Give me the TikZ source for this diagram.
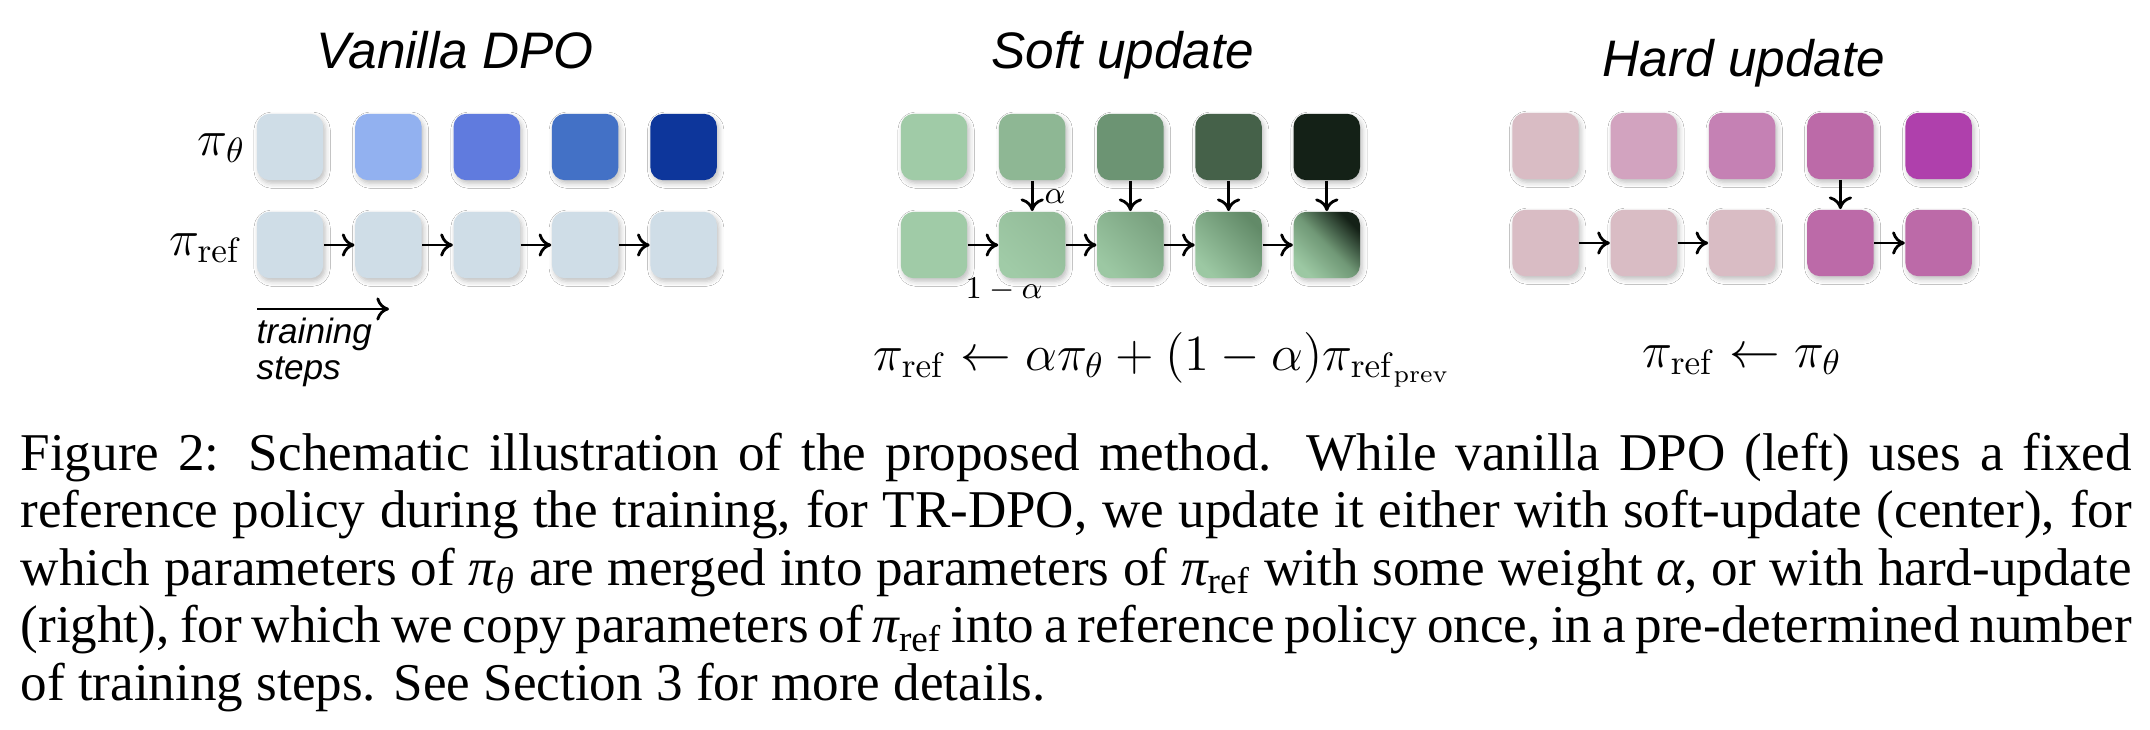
\documentclass[tikz,border=0pt]{standalone}
\usepackage[no-math]{fontspec}
\setmainfont{Liberation Serif}
\newfontfamily\headfont{Liberation Sans}
\usetikzlibrary{arrows.meta,shadows,shadows.blur}

\definecolor{vA}{RGB}{207,221,231}
\definecolor{vB}{RGB}{146,177,240}
\definecolor{vC}{RGB}{96,123,222}
\definecolor{vD}{RGB}{67,113,198}
\definecolor{vE}{RGB}{13,54,155}
\definecolor{sA}{RGB}{160,203,167}
\definecolor{sB}{RGB}{142,183,148}
\definecolor{sC}{RGB}{108,148,115}
\definecolor{sD}{RGB}{69,97,73}
\definecolor{sE}{RGB}{20,33,23}
\definecolor{sL}{RGB}{156,200,163}
\definecolor{sT2}{RGB}{146,187,152}
\definecolor{sT3}{RGB}{122,162,128}
\definecolor{sT4}{RGB}{98,138,104}
\definecolor{sM5}{RGB}{112,152,118}
\definecolor{hA}{RGB}{217,188,196}
\definecolor{hB}{RGB}{210,163,191}
\definecolor{hC}{RGB}{197,129,180}
\definecolor{hD}{RGB}{188,106,168}
\definecolor{hE}{RGB}{175,64,172}

\pgfdeclareverticalshading{softfive}{100bp}{color(0bp)=(sL); color(25bp)=(sL); color(50bp)=(sM5); color(75bp)=(sE); color(100bp)=(sE)}

\tikzset{
  blk/.style={rectangle, rounded corners=3.7pt, minimum width=18.9pt, minimum height=18.9pt, inner sep=0pt,
    blur shadow={shadow xshift=0.6pt, shadow yshift=-0.9pt, shadow blur radius=1.4pt, shadow opacity=25}},
  arr/.style={line width=0.8pt, -{Computer Modern Rightarrow[length=3.6pt,width=6.6pt]}},
  mth/.style={inner sep=0pt, font=\fontsize{14.4}{17}\selectfont},
  ttl/.style={inner sep=0pt, font=\headfont\itshape\fontsize{14.6}{17}\selectfont},
}

\begin{document}
\begin{tikzpicture}[x=0.01cm,y=-0.01cm]
\useasboundingbox[fill=white] (0,0) rectangle (2150,730);

% titles
\node[ttl, anchor=base] (tv) at (455,68) {Vanilla DPO};
\node[ttl, anchor=base] (ts) at (1123,68) {Soft update};
\node[ttl, anchor=base] (th) at (1744,76) {Hard update};

% vanilla
\node[mth, anchor=base east] (lt) at (246,155) {$\pi_\theta$};
\node[mth, anchor=base east, font=\fontsize{15.5}{17}\selectfont] (lr) at (243,255)
  {$\pi_{\mbox{\fontsize{9.8}{11}\selectfont$\mathrm{ref}$}}$};
\foreach \i/\c in {1/vA,2/vB,3/vC,4/vD,5/vE}
  \node[blk, fill=\c] (vt\i) at ({290+98.4*(\i-1)},147) {};
\foreach \i in {1,...,5}
  \node[blk, fill=vA] (vb\i) at ({290+98.4*(\i-1)},245) {};
\foreach \i/\j in {1/2,2/3,3/4,4/5}
  \draw[arr] (vb\i) -- (vb\j);
\coordinate (tsa) at (257,309);
\coordinate (tsb) at (389,309);
\draw[arr] (tsa) -- (tsb);
\node[inner sep=0pt, anchor=base west] (tstext) at (256,343)
  {\parbox[t]{3cm}{\raggedright\headfont\itshape\fontsize{10}{10.5}\selectfont training\\steps}};

% soft update
\foreach \i/\c in {1/sA,2/sB,3/sC,4/sD,5/sE}
  \node[blk, fill=\c] (st\i) at ({934+98.2*(\i-1)},147) {};
\node[blk, fill=sA] (sb1) at (934,245) {};
\node[blk, top color=sT2, bottom color=sA, shading angle=-45] (sb2) at (1032.2,245) {};
\node[blk, top color=sT3, bottom color=sL, shading angle=-45] (sb3) at (1130.4,245) {};
\node[blk, top color=sT4, bottom color=sL, shading angle=-45] (sb4) at (1228.6,245) {};
\node[blk, shading=softfive, shading angle=-45] (sb5) at (1326.8,245) {};
\foreach \i/\j in {1/2,2/3,3/4,4/5}
  \draw[arr] (sb\i) -- (sb\j);
\foreach \i in {2,...,5}
  \draw[arr] (st\i) -- (sb\i);
\node[inner sep=0pt, anchor=base west, font=\fontsize{9}{11}\selectfont] (alab) at (1044,203) {$\alpha$};
\node[inner sep=0pt, anchor=base west, font=\fontsize{9}{11}\selectfont] (blab) at (965,298) {$1-\alpha$};
\node[mth, anchor=base west] (sform) at (873,370)
  {$\pi_{\mathrm{ref}} \leftarrow \alpha\pi_\theta + (1-\alpha)\pi_{\mathrm{ref}_{\mathrm{prev}}}$};

% hard update
\foreach \i/\c in {1/hA,2/hB,3/hC,4/hD,5/hE}
  \node[blk, fill=\c] (ht\i) at ({1545.5+98.3*(\i-1)},146) {};
\foreach \i/\c in {1/hA,2/hA,3/hA,4/hD,5/hD}
  \node[blk, fill=\c] (hb\i) at ({1545.5+98.3*(\i-1)},243) {};
\draw[arr] (hb1) -- (hb2);
\draw[arr] (hb2) -- (hb3);
\draw[arr] (hb4) -- (hb5);
\draw[arr] (ht4) -- (hb4);
\node[mth, anchor=base west] (hform) at (1642,367) {$\pi_{\mathrm{ref}} \leftarrow \pi_\theta$};

% caption
\node[inner sep=0pt, anchor=base west] (cap) at (20,470)
{\parbox[t]{600.3pt}{\fontsize{15.1}{16.37}\selectfont
Figure 2: Schematic illustration of the proposed method. While vanilla DPO (left) uses a fixed\linebreak
reference policy during the training, for TR-DPO, we update it either with soft-update (center), for\linebreak
which parameters of {\itshape π}\textsubscript{\itshape θ} are merged into parameters of {\itshape π}\textsubscript{ref} with some weight {\itshape α}, or with hard-update\linebreak
(right), for which we copy parameters of {\itshape π}\textsubscript{ref} into a reference policy once, in a pre-determined number\linebreak
of training steps. See Section 3 for more details.}};
\end{tikzpicture}
\end{document}
